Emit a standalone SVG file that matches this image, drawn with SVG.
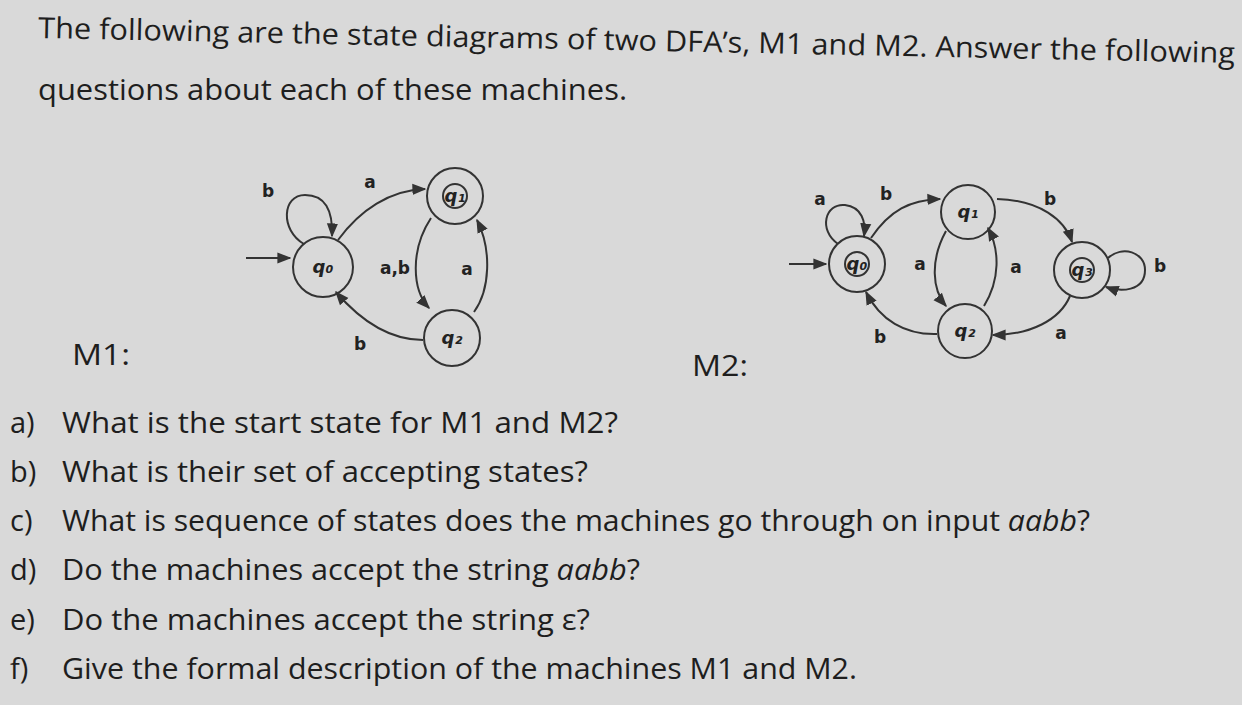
<svg xmlns="http://www.w3.org/2000/svg" width="1242" height="705" viewBox="0 0 1242 705">
<defs>
<marker id="ah" viewBox="0 0 10 10" refX="9" refY="5" markerWidth="7" markerHeight="7" orient="auto-start-reverse"><path d="M0,1 L10,5 L0,9 z" fill="#333"/></marker>
<style>
.t{font-family:"Open Sans","Liberation Sans",sans-serif;fill:#1e1e1e;font-size:29px}
.s{fill:none;stroke:#333;stroke-width:2}
.e{fill:none;stroke:#333;stroke-width:2;marker-end:url(#ah)}
.l{font-family:"DejaVu Sans",sans-serif;fill:#222;font-size:17px;font-weight:bold;text-anchor:middle}
.q{font-family:"DejaVu Sans",sans-serif;fill:#222;font-size:18px;font-style:italic;font-weight:bold;text-anchor:middle}
</style>
</defs>
<rect width="1242" height="705" fill="#d9d9d9"/>
<g id="text">
<text class="t" x="38" y="38" transform="rotate(1.2 38 38)" textLength="1197" lengthAdjust="spacingAndGlyphs">The following are the state diagrams of two DFA’s, M1 and M2. Answer the following</text>
<text class="t" x="38" y="100" textLength="589" lengthAdjust="spacingAndGlyphs">questions about each of these machines.</text>
<text class="t" x="72" y="365" textLength="58" lengthAdjust="spacingAndGlyphs">M1:</text>
<text class="t" x="692" y="376" textLength="56" lengthAdjust="spacingAndGlyphs">M2:</text>
<text class="t" x="10" y="433">a)</text>
<text class="t" x="62" y="433" textLength="556" lengthAdjust="spacingAndGlyphs">What is the start state for M1 and M2?</text>
<text class="t" x="10" y="482">b)</text>
<text class="t" x="62" y="482" textLength="526" lengthAdjust="spacingAndGlyphs">What is their set of accepting states?</text>
<text class="t" x="10" y="531">c)</text>
<text class="t" x="62" y="531" textLength="1028" lengthAdjust="spacingAndGlyphs">What is sequence of states does the machines go through on input <tspan font-style="italic">aabb</tspan>?</text>
<text class="t" x="10" y="580">d)</text>
<text class="t" x="62" y="580" textLength="578" lengthAdjust="spacingAndGlyphs">Do the machines accept the string <tspan font-style="italic">aabb</tspan>?</text>
<text class="t" x="10" y="630">e)</text>
<text class="t" x="62" y="630" textLength="528" lengthAdjust="spacingAndGlyphs">Do the machines accept the string ε?</text>
<text class="t" x="10" y="679">f)</text>
<text class="t" x="62" y="679" textLength="795" lengthAdjust="spacingAndGlyphs">Give the formal description of the machines M1 and M2.</text>
</g>
<g id="m1-q0"><circle class="s" cx="323" cy="267" r="30"/><text class="q" x="323" y="273">q₀</text></g>
<g id="m1-q1"><circle class="s" cx="455" cy="196" r="28"/><circle class="s" cx="455" cy="196" r="12"/><text class="q" x="455" y="202">q₁</text></g>
<g id="m1-q2"><circle class="s" cx="452" cy="338" r="28"/><text class="q" x="452" y="344">q₂</text></g>
<g id="m1-edges">
<path class="e" d="M246,258 L290,258"/>
<path class="e" d="M304,244 C280,230 282,195 305,195 C325,195 333,210 332,236"/>
<path class="e" d="M338,240 C360,210 390,190 425,189"/>
<path class="e" d="M431,218 C410,250 412,290 429,308"/>
<path class="e" d="M474,312 C490,290 492,250 477,220"/>
<path class="e" d="M423,340 C390,340 360,320 336,292"/>
</g>
<g id="m1-labels">
<text class="l" x="268" y="197">b</text><text class="l" x="370" y="188">a</text>
<text class="l" x="395" y="274">a,b</text><text class="l" x="467" y="275">a</text>
<text class="l" x="360" y="350">b</text>
</g>
<g id="m2-q0"><circle class="s" cx="857" cy="264" r="28"/><circle class="s" cx="857" cy="264" r="12"/><text class="q" x="857" y="270">q₀</text></g>
<g id="m2-q1"><circle class="s" cx="968" cy="212" r="27"/><text class="q" x="968" y="218">q₁</text></g>
<g id="m2-q2"><circle class="s" cx="965" cy="331" r="27"/><text class="q" x="965" y="337">q₂</text></g>
<g id="m2-q3"><circle class="s" cx="1082" cy="270" r="28"/><circle class="s" cx="1082" cy="270" r="12"/><text class="q" x="1082" y="276">q₃</text></g>
<g id="m2-edges">
<path class="e" d="M789,264 L826,264"/>
<path class="e" d="M838,244 C818,230 825,203 845,205 C862,207 866,222 864,236"/>
<path class="e" d="M871,238 C890,210 910,200 940,199"/>
<path class="e" d="M997,199 C1040,200 1065,220 1072,242"/>
<path class="e" d="M946,231 C930,260 932,290 946,306"/>
<path class="e" d="M984,306 C1000,280 1000,250 988,228"/>
<path class="e" d="M1108,258 C1122,245 1145,252 1145,270 C1145,292 1120,292 1106,287"/>
<path class="e" d="M1070,296 C1060,320 1030,335 993,335"/>
<path class="e" d="M937,334 C905,335 880,320 866,292"/>
</g>
<g id="m2-labels">
<text class="l" x="820" y="205">a</text><text class="l" x="886" y="200">b</text>
<text class="l" x="1050" y="205">b</text><text class="l" x="920" y="270">a</text>
<text class="l" x="1016" y="273">a</text><text class="l" x="1160" y="272">b</text>
<text class="l" x="880" y="343">b</text><text class="l" x="1061" y="339">a</text>
</g>
</svg>
